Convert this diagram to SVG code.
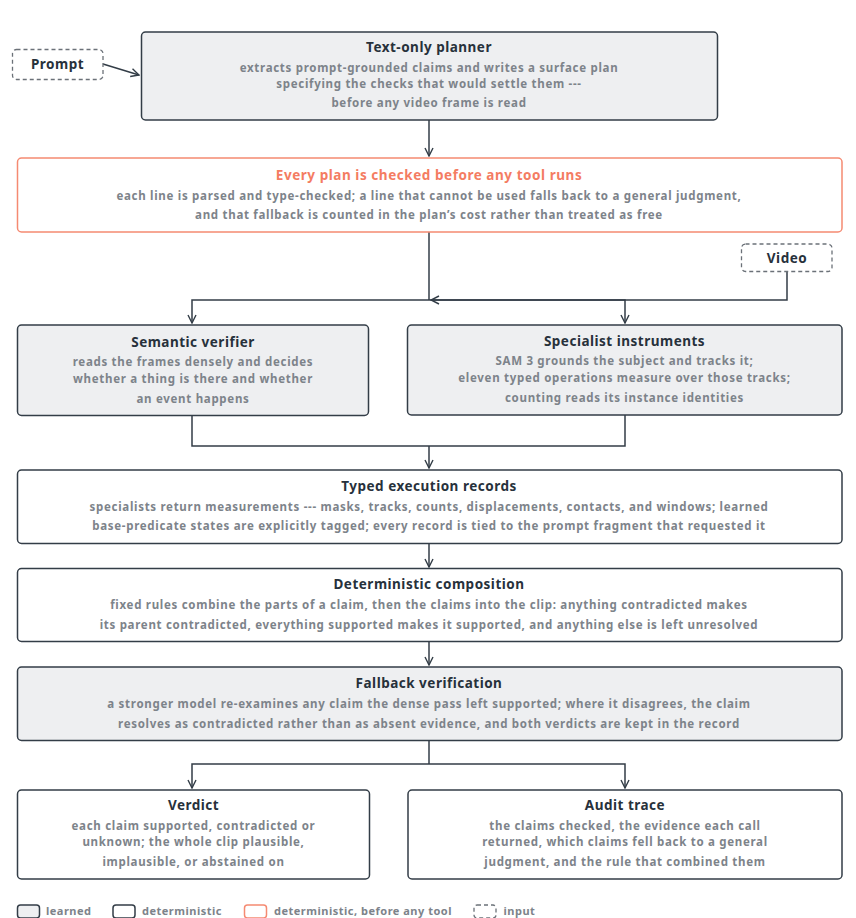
<svg xmlns="http://www.w3.org/2000/svg" width="856" height="918" viewBox="0 0 856 918">
<style>
.box{stroke:#333d47;stroke-width:1.5;}
.learned{fill:#eeeff1;}
.det{fill:#ffffff;}
.pre{fill:#ffffff;stroke:#f58a72;stroke-width:1.5;}
.inp{fill:#ffffff;stroke:#6b7178;stroke-width:1.3;stroke-dasharray:4 3;}
.t{font-family:"Noto Sans","Liberation Sans",sans-serif;font-weight:700;font-size:13.5px;letter-spacing:0.5px;fill:#27313b;text-anchor:middle;}
.to{font-family:"Noto Sans","Liberation Sans",sans-serif;font-weight:700;font-size:13.5px;letter-spacing:0.55px;fill:#f47c62;text-anchor:middle;}
.b{font-family:"Noto Sans","Liberation Sans",sans-serif;font-weight:700;font-size:11.5px;letter-spacing:0.7px;fill:#7d838a;text-anchor:middle;}
.lg{font-family:"Noto Sans","Liberation Sans",sans-serif;font-weight:700;font-size:11px;letter-spacing:0.5px;fill:#7d838a;}
.c{fill:none;stroke:#333d47;stroke-width:1.5;}
</style>
<defs>
<marker id="ah" viewBox="0 0 10 10" refX="9" refY="5" markerWidth="10" markerHeight="10" markerUnits="userSpaceOnUse" orient="auto">
<path d="M1,1 L9,5 L1,9" fill="none" stroke="#333d47" stroke-width="1.4"/>
</marker>
</defs>
<rect width="856" height="918" fill="#ffffff"/>

<g id="connectors">
<path class="c" d="M103,64 L139,75" marker-end="url(#ah)"/>
<path class="c" d="M429,120 L429,156" marker-end="url(#ah)"/>
<path class="c" d="M429,232 L429,300"/>
<path class="c" d="M429,300 L192,300 L192,323" marker-end="url(#ah)"/>
<path class="c" d="M429,300 L625,300 L625,323" marker-end="url(#ah)"/>
<path class="c" d="M787,272 L787,300 L431,300" marker-end="url(#ah)"/>
<path class="c" d="M192,415 L192,446 L625,446 L625,415"/>
<path class="c" d="M429,446 L429,468" marker-end="url(#ah)"/>
<path class="c" d="M429,543 L429,567" marker-end="url(#ah)"/>
<path class="c" d="M429,642 L429,665" marker-end="url(#ah)"/>
<path class="c" d="M429,741 L429,764"/>
<path class="c" d="M429,764 L192,764 L192,788" marker-end="url(#ah)"/>
<path class="c" d="M429,764 L625,764 L625,788" marker-end="url(#ah)"/>
</g>

<g id="prompt">
<rect class="inp" x="12.5" y="49.5" width="90.5" height="30" rx="4"/>
<text class="t" x="57.5" y="69">Prompt</text>
</g>

<g id="planner">
<rect class="box learned" x="141.5" y="32" width="576" height="88" rx="4"/>
<text class="t" x="429" y="52">Text-only planner</text>
<text class="b" x="429" y="72">extracts prompt-grounded claims and writes a surface plan</text>
<text class="b" x="429" y="88">specifying the checks that would settle them ---</text>
<text class="b" x="429" y="107">before any video frame is read</text>
</g>

<g id="plan-check">
<rect class="pre" x="17.5" y="158" width="824.5" height="74" rx="4"/>
<text class="to" x="429" y="180">Every plan is checked before any tool runs</text>
<text class="b" x="429" y="200">each line is parsed and type-checked; a line that cannot be used falls back to a general judgment,</text>
<text class="b" x="429" y="219">and that fallback is counted in the plan’s cost rather than treated as free</text>
</g>

<g id="video">
<rect class="inp" x="741.5" y="244" width="90.5" height="27.5" rx="4"/>
<text class="t" x="787" y="262.5">Video</text>
</g>

<g id="semantic">
<rect class="box learned" x="17.5" y="325" width="351" height="90.5" rx="4"/>
<text class="t" x="193" y="346.5">Semantic verifier</text>
<text class="b" x="193" y="366">reads the frames densely and decides</text>
<text class="b" x="193" y="383">whether a thing is there and whether</text>
<text class="b" x="193" y="403">an event happens</text>
</g>

<g id="specialist">
<rect class="box learned" x="407.5" y="325" width="434.5" height="90" rx="4"/>
<text class="t" x="624.5" y="346">Specialist instruments</text>
<text class="b" x="624.5" y="365">SAM 3 grounds the subject and tracks it;</text>
<text class="b" x="624.5" y="382">eleven typed operations measure over those tracks;</text>
<text class="b" x="624.5" y="401.5">counting reads its instance identities</text>
</g>

<g id="records">
<rect class="box det" x="17.5" y="470" width="824.5" height="73.5" rx="4"/>
<text class="t" x="429" y="491">Typed execution records</text>
<text class="b" x="429" y="511">specialists return measurements --- masks, tracks, counts, displacements, contacts, and windows; learned</text>
<text class="b" x="429" y="530">base-predicate states are explicitly tagged; every record is tied to the prompt fragment that requested it</text>
</g>

<g id="composition">
<rect class="box det" x="17.5" y="568.5" width="824.5" height="73" rx="4"/>
<text class="t" x="429" y="589">Deterministic composition</text>
<text class="b" x="429" y="609">fixed rules combine the parts of a claim, then the claims into the clip: anything contradicted makes</text>
<text class="b" x="429" y="629">its parent contradicted, everything supported makes it supported, and anything else is left unresolved</text>
</g>

<g id="fallback">
<rect class="box learned" x="17.5" y="667" width="824.5" height="73.5" rx="4"/>
<text class="t" x="429" y="687.5">Fallback verification</text>
<text class="b" x="429" y="708">a stronger model re-examines any claim the dense pass left supported; where it disagrees, the claim</text>
<text class="b" x="429" y="728">resolves as contradicted rather than as absent evidence, and both verdicts are kept in the record</text>
</g>

<g id="verdict">
<rect class="box det" x="17.5" y="790" width="352" height="89" rx="4"/>
<text class="t" x="193.5" y="810">Verdict</text>
<text class="b" x="193.5" y="830">each claim supported, contradicted or</text>
<text class="b" x="193.5" y="846">unknown; the whole clip plausible,</text>
<text class="b" x="193.5" y="866">implausible, or abstained on</text>
</g>

<g id="audit">
<rect class="box det" x="408" y="790" width="434" height="89" rx="4"/>
<text class="t" x="625" y="810">Audit trace</text>
<text class="b" x="625" y="830">the claims checked, the evidence each call</text>
<text class="b" x="625" y="846">returned, which claims fell back to a general</text>
<text class="b" x="625" y="866">judgment, and the rule that combined them</text>
</g>

<g id="legend">
<rect class="box learned" x="17.5" y="905" width="22" height="13" rx="3"/>
<text class="lg" x="46" y="915">learned</text>
<rect class="box det" x="113" y="905" width="22" height="13" rx="3"/>
<text class="lg" x="142" y="915">deterministic</text>
<rect class="pre" x="244.5" y="905" width="22" height="13" rx="3"/>
<text class="lg" x="274" y="915">deterministic, before any tool</text>
<rect class="inp" x="474" y="905" width="22" height="13" rx="3"/>
<text class="lg" x="503.5" y="915">input</text>
</g>
</svg>
